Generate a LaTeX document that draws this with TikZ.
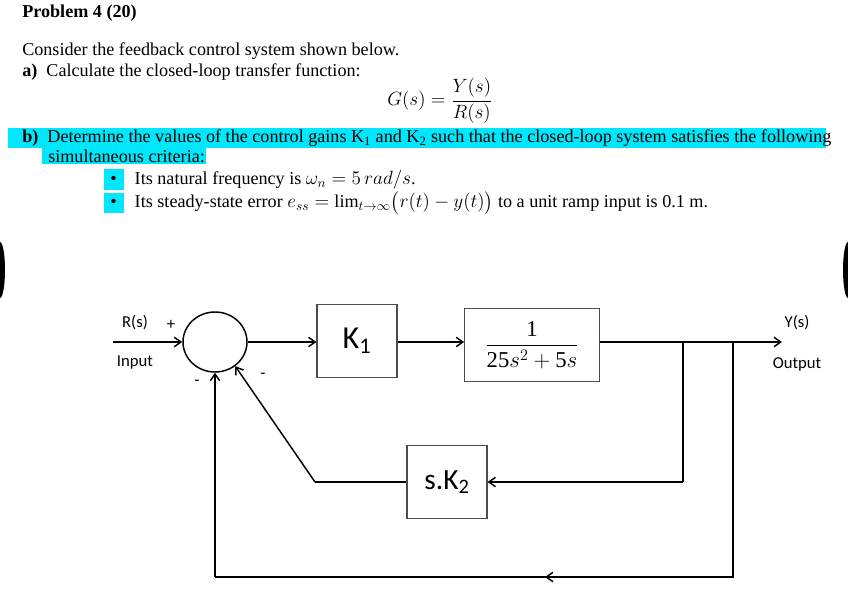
\documentclass[tikz,border=0pt]{standalone}
\usepackage{amsmath}
\usepackage{fontspec}
\setmainfont{Liberation Serif}
\newfontfamily\diag{Carlito}
\usetikzlibrary{arrows.meta,shapes.geometric}
\definecolor{hl}{RGB}{0,230,250}
\begin{document}
\begin{tikzpicture}[x=0.75pt,y=-0.75pt,
  blk/.style={draw=black!70,line width=0.8pt,inner sep=0pt},
  con/.style={line width=1.1pt,-{Straight Barb[length=5pt,width=7pt]}},
  ln/.style={line width=1.1pt},
  txt/.style={anchor=west,inner sep=0pt,font=\fontsize{13.6}{15}\selectfont},
  lab/.style={inner sep=0pt,font=\diag\fontsize{12.5}{14}\selectfont}]
\useasboundingbox (0,0) rectangle (848,588);
\fill[white] (0,0) rectangle (848,588);
% highlights
\fill[hl] (8,128) rectangle (826,148);
\fill[hl] (42,147) rectangle (206,164);
\fill[hl] (104,169) rectangle (124,190);
\fill[hl] (104,193) rectangle (124,213);
% text
\node[txt,font=\bfseries\fontsize{13.6}{15}\selectfont] (t0) at (22,13) {Problem 4 (20)};
\node[txt] (t1) at (22,51) {Consider the feedback control system shown below.};
\node[txt] (t2) at (22,72) {\textbf{a)}\enspace Calculate the closed-loop transfer function:};
\node[inner sep=0pt,font=\fontsize{13.6}{15}\selectfont] (gs) at (440,101) {$G(s)=\dfrac{Y(s)}{R(s)}$};
\node[txt] (t3) at (22,138) {\textbf{b)}\enspace Determine the values of the control gains K\textsubscript{1} and K\textsubscript{2} such that the closed-loop system satisfies the following};
\node[txt] (t4) at (48,156) {simultaneous criteria:};
\node[txt] (b1) at (110,180) {\textbullet\quad Its natural frequency is $\omega_n=5\,rad/s$.};
\node[txt] (b2) at (110,203) {\textbullet\quad Its steady-state error $e_{ss}=\lim_{t\to\infty}\bigl(r(t)-y(t)\bigr)$ to a unit ramp input is 0.1 m.};
% side marks
\fill[black] (0,270) ellipse (5 and 28);
\fill[black] (848,270) ellipse (5 and 28);
% diagram
\node[draw=black,line width=1.1pt,ellipse,minimum width=48pt,minimum height=45pt,inner sep=0pt] (sum) at (215,342) {};
\coordinate (in) at (113,342);
\node[blk,minimum width=60pt,minimum height=55pt] (k1) at (357,341) {\diag\fontsize{24}{26}\selectfont K\textsubscript{1}};
\node[blk,minimum width=101pt,minimum height=55pt] (g) at (532,345) {\diag\fontsize{17}{19}\selectfont$\dfrac{\mathrm{1}}{\mathrm{25}s^2+\mathrm{5}s}$};
\node[blk,minimum width=60pt,minimum height=55pt] (k2) at (447,482) {\diag\fontsize{22}{24}\selectfont s.K\textsubscript{2}};
\coordinate (out) at (782,342);
\coordinate (br1) at (683,342);
\coordinate (br2) at (733,342);
\coordinate (c1) at (683,482);
\coordinate (c2) at (315,482);
\coordinate (d1) at (733,577);
\coordinate (d2) at (215,577);
\coordinate (dm) at (545,577);
\draw[con] (in) -- (sum.west);
\draw[con] (sum.east) -- (k1.west |- sum.east);
\draw[con] (k1.east |- sum.east) -- (g.west |- sum.east);
\draw[con] (g.east |- sum.east) -- (out);
\draw[ln] (br1) -- (c1);
\draw[con] (c1) -- (k2.east);
\draw[ln] (k2.west) -- (c2);
\draw[con] (c2) -- (sum.-50);
\draw[ln] (br2) -- (d1) -- (d2);
\draw[con] (d1) -- (dm);
\draw[con] (d2) -- (sum.south);
\node[lab] (rs) at (135,323) {R(s)};
\node[lab] (pl) at (171,325) {+};
\node[lab] (ip) at (135,362) {Input};
\node[lab] (m1) at (197,383) {-};
\node[lab] (m2) at (263,376) {-};
\node[lab] (ys) at (797,323) {Y(s)};
\node[lab] (op) at (797,364) {Output};
\end{tikzpicture}
\end{document}
